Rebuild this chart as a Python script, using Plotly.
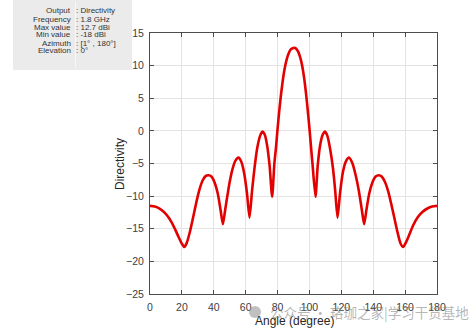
import plotly.graph_objects as go

angle = [0, 3, 6, 9, 12, 15, 18, 20, 21.5, 23, 25, 27, 29, 31, 33, 35, 36.7, 38.5, 40.5, 42.5, 44.2, 45.7,
         47.2, 48.5, 50, 51.7, 53.5, 55.5, 57.2, 59, 60.8, 62.4, 64, 65.5, 67.2, 69, 70.5, 72, 73.5, 75, 76.6,
         78, 79, 80, 81, 82, 83, 84, 85, 86, 87, 88, 89, 90, 91, 92, 93, 94, 95, 96, 97, 98, 99, 100, 101, 102,
         103.8, 105.2, 106.7, 108.3, 109.8, 111.3, 113, 114.8, 116.2, 117.6, 119.2, 121, 122.8, 124.8, 127, 129,
         131, 132.8, 134.3, 135.8, 137.5, 139.5, 141.5, 143.6, 145.3, 147.3, 149.3, 151.3, 153.3, 155.3, 157.2,
         158.8, 160.3, 162.3, 165, 168, 171, 174, 177, 180]
directivity = [-11.5, -11.6, -11.9, -12.5, -13.4, -14.7, -16.3, -17.3, -17.8, -17.2, -15.5, -13.3, -11.0, -9.0,
               -7.6, -6.9, -6.8, -7.0, -7.9, -9.6, -12.0, -14.3,
               -12.0, -10.0, -7.8, -5.9, -4.6, -4.1, -4.7, -6.4, -9.5, -13.3, -9.2, -5.8, -2.7, -0.8, -0.1, -0.6,
               -2.3, -5.3, -10.1,
               -5.0, -2.6, 0.3, 2.9, 5.2, 7.2, 8.9, 10.2, 11.2, 11.9, 12.4, 12.6, 12.7, 12.7, 12.5, 12.1, 11.4,
               10.5, 9.2, 7.5, 5.4, 3.0, 0.4, -2.5, -5.3,
               -10.1, -5.3, -2.2, -0.6, -0.1, -0.8, -2.8, -5.8, -9.3, -13.3, -9.5, -6.3, -4.7, -4.1, -5.0, -6.8,
               -9.2, -12.0, -14.3, -12.0, -9.6, -7.9, -7.0, -6.8, -7.0, -7.8, -9.2, -11.2, -13.4, -15.6, -17.3,
               -17.8, -17.2, -16.1, -14.5, -13.2, -12.4, -11.9, -11.6, -11.5]

x_ticks = [0, 20, 40, 60, 80, 100, 120, 140, 160, 180]
y_ticks = [-25, -20, -15, -10, -5, 0, 5, 10, 15]

info_labels = ["Output", "Frequency", "Max value", "Min value", "Azimuth", "Elevation"]
info_values = ["Directivity", "1.8 GHz", "12.7 dBi", "-18 dBi", "[1° , 180°]", "0°"]

W, H = 474, 330
L, R, T, B = 150, 437, 33, 294

fig = go.Figure()
fig.add_trace(go.Scatter(x=angle, y=directivity, mode="lines",
                         line=dict(color="#e30000", width=2.6, shape="spline", smoothing=0.6),
                         showlegend=False, hoverinfo="skip"))

axis_common = dict(showline=True, linecolor="#4d4d4d", linewidth=1, mirror="ticks",
                   ticks="inside", ticklen=4, tickcolor="#4d4d4d",
                   showgrid=True, gridcolor="#e3e3e3", gridwidth=1, zeroline=False,
                   tickfont=dict(family="Liberation Sans, Arial", size=10.5, color="#404040"))

fig.update_xaxes(range=[0, 180], tickvals=x_ticks, ticklabelstandoff=3, **axis_common)
fig.update_yaxes(range=[-25, 15], tickvals=y_ticks, ticklabelstandoff=3, **axis_common)

def px(xp):
    return (xp - L) / (R - L)

def py(yp):
    return (B - yp) / (B - T)

annotations = []
annotations.append(dict(text="Angle (degree)", x=px(294), y=py(321), xref="paper", yref="paper",
                        showarrow=False, xanchor="center", yanchor="middle",
                        font=dict(family="Liberation Sans, Arial", size=12, color="#262626")))
annotations.append(dict(text="Directivity", x=px(120), y=py(164), xref="paper", yref="paper",
                        showarrow=False, textangle=-90, xanchor="center", yanchor="middle",
                        font=dict(family="Liberation Sans, Arial", size=12, color="#262626")))

line_y = [11, 19, 27, 35, 43, 50.5]
for lab, val, yy in zip(info_labels, info_values, line_y):
    annotations.append(dict(text=lab, x=px(73), y=py(yy), xref="paper", yref="paper",
                            showarrow=False, xanchor="right", yanchor="middle",
                            font=dict(family="Liberation Sans, Arial", size=8, color="#333333")))
    annotations.append(dict(text=": " + val, x=px(73.5), y=py(yy), xref="paper", yref="paper",
                            showarrow=False, xanchor="left", yanchor="middle",
                            font=dict(family="Liberation Sans, Arial", size=8, color="#333333")))

annotations.append(dict(text="公众号 · 珞珈之家|学习干货基地", x=px(268), y=py(312), xref="paper", yref="paper",
                        showarrow=False, xanchor="left", yanchor="middle",
                        font=dict(family="Noto Sans CJK SC", size=13.5, color="rgba(120,120,120,0.55)")))

shapes = [
    dict(type="rect", xref="paper", yref="paper", x0=px(13), x1=px(132), y0=py(70), y1=py(0),
         fillcolor="#ebebeb", line=dict(width=0), layer="below"),
    dict(type="line", xref="paper", yref="paper", x0=px(75.5), x1=px(75.5), y0=py(68), y1=py(2),
         line=dict(color="#f7f7f7", width=1)),
    dict(type="circle", xref="paper", yref="paper", x0=px(249), x1=px(261), y0=py(318), y1=py(306),
         fillcolor="rgba(140,140,140,0.55)", line=dict(width=0)),
]

fig.update_layout(width=W, height=H, margin=dict(l=L, r=W - R, t=T, b=H - B),
                  paper_bgcolor="white", plot_bgcolor="white",
                  annotations=annotations, shapes=shapes)

fig.write_html("out.html")
